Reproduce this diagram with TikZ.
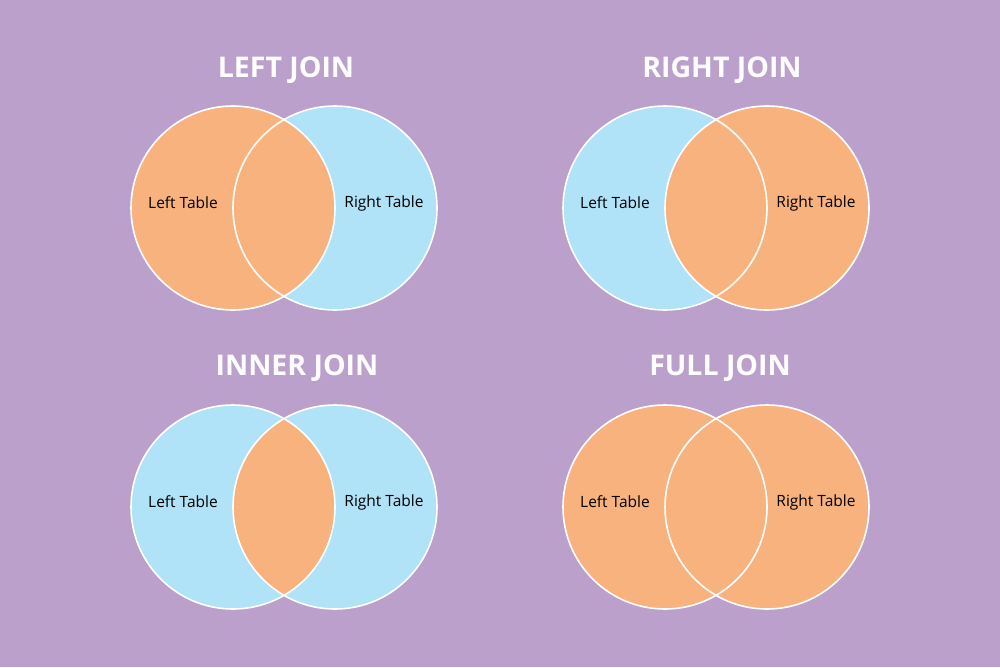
\documentclass[tikz,border=0pt]{standalone}
\usepackage{fontspec}
\setmainfont{Open Sans}
\definecolor{bg}{HTML}{BBA0CC}
\definecolor{org}{HTML}{F8B27E}
\definecolor{blu}{HTML}{B0E2F8}
\begin{document}
\begin{tikzpicture}[x=1pt,y=-1pt,
  title/.style={text=white,font=\fontsize{28.5}{34}\selectfont\bfseries},
  lbl/.style={text=black,font=\fontsize{15.5}{19}\selectfont},
  rim/.style={draw=white,line width=1.6pt}]
\fill[bg] (0,0) rectangle (1000,667);
\useasboundingbox (0,0) rectangle (1000,667);
\def\R{102}
\newcommand\venn[6]{%
  \fill[#3] (#1,#2) circle (\R);
  \fill[#4] (#1+102,#2) circle (\R);
  \begin{scope}\clip (#1,#2) circle (\R);
    \fill[#5] (#1+102,#2) circle (\R);\end{scope}
  \draw[rim] (#1,#2) circle (\R);
  \draw[rim] (#1+102,#2) circle (\R);
  \node[lbl] (#6l) at (#1-50,#2-5) {Left Table};
  \node[lbl] (#6r) at (#1+151,#2-5) {Right Table};
}
\venn{233}{208}{org}{blu}{org}{a}
\venn{665}{208}{blu}{org}{org}{b}
\venn{233}{507}{blu}{blu}{org}{c}
\venn{665}{507}{org}{org}{org}{d}
\node[title] (ta) at (286,70) {LEFT JOIN};
\node[title] (tb) at (722,70) {RIGHT JOIN};
\node[title] (tc) at (297,368) {INNER JOIN};
\node[title] (td) at (720,368) {FULL JOIN};
\end{tikzpicture}
\end{document}
